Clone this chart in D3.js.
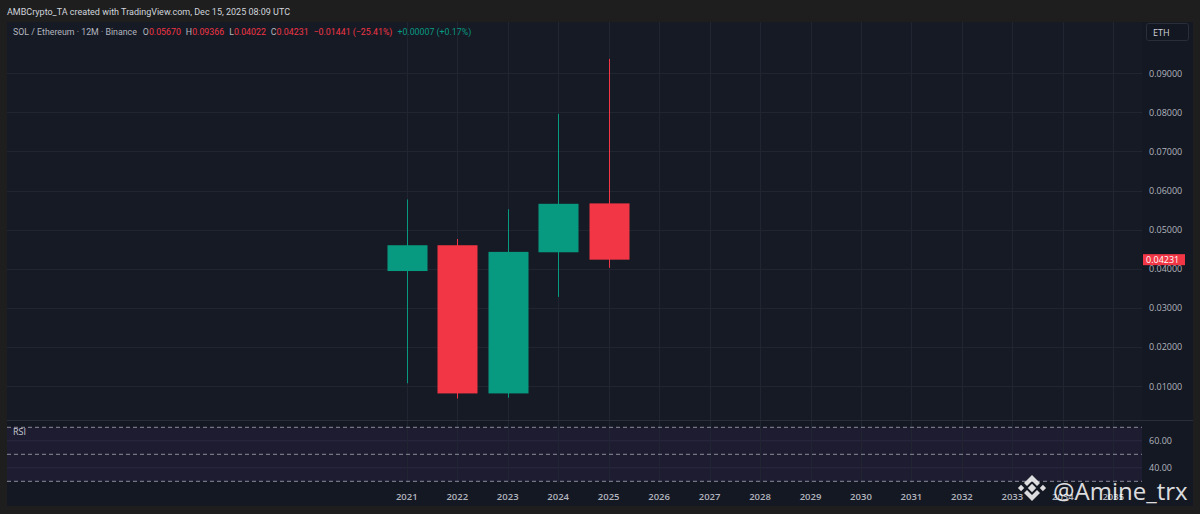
<!DOCTYPE html>
<html><head><meta charset="utf-8">
<script src="https://cdn.jsdelivr.net/npm/d3@7/dist/d3.min.js"></script>
<style>
html,body{margin:0;padding:0;background:#1e1e1e;}
svg{display:block;font-family:"Open Sans","Noto Sans",sans-serif;}
</style></head>
<body>
<svg id="c" width="1200" height="514"></svg>
<script>
// ---- data ----
const years = [2021, 2022, 2023, 2024, 2025];
const opens = [0.0394, 0.0460, 0.0081, 0.0442, 0.05670];
const highs = [0.0577, 0.0476, 0.0552, 0.0796, 0.09366];
const lows  = [0.0107, 0.0068, 0.0070, 0.0328, 0.04022];
const closes= [0.0460, 0.0081, 0.0443, 0.0566, 0.04231];
const axisYears = [2021,2022,2023,2024,2025,2026,2027,2028,2029,2030,2031,2032,2033,2034,2035];
const priceTicks = [0.01,0.02,0.03,0.04,0.05,0.06,0.07,0.08,0.09];
const rsiTicks = [60, 40];
const rsiLevels = [70, 50, 30];
const lastPrice = 0.04231;

const svg = d3.select("#c");
const W = 1200, H = 514;
const panelL = 7, panelR = 1193, panelT = 22, panelB = 506;
const plotR = 1142;

svg.append("rect").attr("width",W).attr("height",H).attr("fill","#1e1e1e");
svg.append("rect").attr("x",panelL).attr("y",panelT).attr("width",panelR-panelL).attr("height",panelB-panelT).attr("fill","#141823");
svg.append("rect").attr("x",panelL).attr("y",panelT).attr("width",plotR-panelL).attr("height",420-panelT).attr("fill","#161a25");

const x = d3.scaleLinear().domain([2021,2035]).range([406.8,1113.3]);
const y = d3.scaleLinear().domain([0,0.1]).range([425.1,34.1]);
const yr = d3.scaleLinear().domain([30,70]).range([481.3,427.3]);

// horizontal grid
svg.append("g").selectAll("line").data(priceTicks).join("line")
  .attr("x1",panelL).attr("x2",plotR).attr("y1",d=>Math.round(y(d))+0.5).attr("y2",d=>Math.round(y(d))+0.5)
  .attr("stroke","#212532").attr("stroke-width",1);

// RSI pane
svg.append("rect").attr("x",panelL).attr("y",yr(70)).attr("width",plotR-panelL).attr("height",yr(30)-yr(70)).attr("fill","#1d1c31");
svg.append("g").selectAll("line").data(rsiTicks).join("line")
  .attr("x1",panelL).attr("x2",plotR).attr("y1",d=>yr(d)).attr("y2",d=>yr(d))
  .attr("stroke","#2a2a42").attr("stroke-width",1);

// vertical grid
svg.append("g").selectAll("line").data(axisYears).join("line")
  .attr("x1",d=>Math.round(x(d))+0.5).attr("x2",d=>Math.round(x(d))+0.5).attr("y1",panelT).attr("y2",483)
  .attr("stroke","#212532").attr("stroke-width",1);

svg.append("g").selectAll("line").data(rsiLevels).join("line")
  .attr("x1",panelL).attr("x2",plotR).attr("y1",d=>yr(d)).attr("y2",d=>yr(d))
  .attr("stroke","#8a8d99").attr("stroke-width",1).attr("stroke-dasharray","4,3");

// pane separator
svg.append("line").attr("x1",panelL).attr("x2",panelR).attr("y1",420.5).attr("y2",420.5).attr("stroke","#2a2e39");

// candles
const up = "#089981", dn = "#f23645";
const bw = 40;
const cg = svg.append("g");
years.forEach((yv,i)=>{
  const col = closes[i] >= opens[i] ? up : dn;
  const cx = Math.round(x(yv))+0.5;
  cg.append("line").attr("x1",cx).attr("x2",cx).attr("y1",y(highs[i])).attr("y2",y(lows[i])).attr("stroke",col).attr("stroke-width",1);
  const top = y(Math.max(opens[i],closes[i])), bot = y(Math.min(opens[i],closes[i]));
  cg.append("rect").attr("x",cx-bw/2).attr("y",top).attr("width",bw).attr("height",bot-top).attr("fill",col);
});

// price axis labels
svg.append("g").selectAll("text").data(priceTicks).join("text")
  .attr("x",1149).attr("y",d=>y(d)+3.5).attr("font-size",9).attr("fill","#b2b5be")
  .text(d=>d.toFixed(5));

// last price label
svg.append("rect").attr("x",1143).attr("y",y(lastPrice)-5.5).attr("width",42).attr("height",11).attr("fill",dn);
svg.append("text").attr("x",1146).attr("y",y(lastPrice)+3.5).attr("font-size",9).attr("fill","#ffffff").text(lastPrice.toFixed(5));

// ETH box
svg.append("rect").attr("x",1146.5).attr("y",23.5).attr("width",42).attr("height",17).attr("rx",2).attr("fill","#131722").attr("stroke","#2a2e39");
svg.append("text").attr("x",1153).attr("y",35.5).attr("font-size",9).attr("fill","#d1d4dc").text("ETH");

// RSI labels
svg.append("g").selectAll("text").data(rsiTicks).join("text")
  .attr("x",1149).attr("y",d=>yr(d)+3.5).attr("font-size",9).attr("fill","#b2b5be")
  .text(d=>d.toFixed(2));
svg.append("text").attr("x",13).attr("y",434.5).attr("font-size",9).attr("fill","#c8cad2").text("RSI");

// time axis labels
svg.append("g").selectAll("text").data(axisYears).join("text")
  .attr("x",d=>x(d)).attr("y",499.5).attr("text-anchor","middle").attr("font-size",9.5).attr("font-weight","600").attr("fill","#b2b5be")
  .text(d=>d);

// header
svg.append("text").attr("x",7).attr("y",14.5).attr("font-size",9).attr("font-family","Roboto, sans-serif").attr("fill","#d1d4dc")
  .text("AMBCrypto_TA created with TradingView.com, Dec 15, 2025 08:09 UTC");
const h = svg.append("text").attr("x",13).attr("y",34.5).attr("font-size",8.8).attr("font-family","Roboto, sans-serif").attr("fill","#b2b5be");
h.append("tspan").text("SOL / Ethereum · 12M · Binance");
const parts = [["O","0.05670"],["H","0.09366"],["L","0.04022"],["C","0.04231"]];
parts.forEach((p,i)=>{
  h.append("tspan").attr("dx",i===0?6:5).attr("fill","#b2b5be").text(p[0]);
  h.append("tspan").attr("fill",dn).text(p[1]);
});
h.append("tspan").attr("dx",5).attr("fill",dn).text("−0.01441 (−25.41%)");
h.append("tspan").attr("dx",5).attr("fill",up).text("+0.00007 (+0.17%)");

// watermark
const wm = svg.append("g").attr("opacity",0.85);
const lx = 1032, ly = 488, s = 4.2;
const dia = (cx,cy,r)=>`M${cx},${cy-r}L${cx+r},${cy}L${cx},${cy+r}L${cx-r},${cy}Z`;
wm.append("path").attr("d",dia(lx,ly,s)).attr("fill","#ffffff");
wm.append("path").attr("d",dia(lx-2.6*s,ly,s*0.75)).attr("fill","#ffffff");
wm.append("path").attr("d",dia(lx+2.6*s,ly,s*0.75)).attr("fill","#ffffff");
wm.append("path").attr("d",`M${lx},${ly-13}L${lx+8},${ly-5}L${lx+5},${ly-2}L${lx},${ly-7}L${lx-5},${ly-2}L${lx-8},${ly-5}Z`).attr("fill","#ffffff");
wm.append("path").attr("d",`M${lx},${ly+13}L${lx+8},${ly+5}L${lx+5},${ly+2}L${lx},${ly+7}L${lx-5},${ly+2}L${lx-8},${ly+5}Z`).attr("fill","#ffffff");
wm.append("text").attr("x",1053).attr("y",500).attr("font-size",24).attr("fill","#ffffff").text("@Amine_trx");
</script>
</body></html>
